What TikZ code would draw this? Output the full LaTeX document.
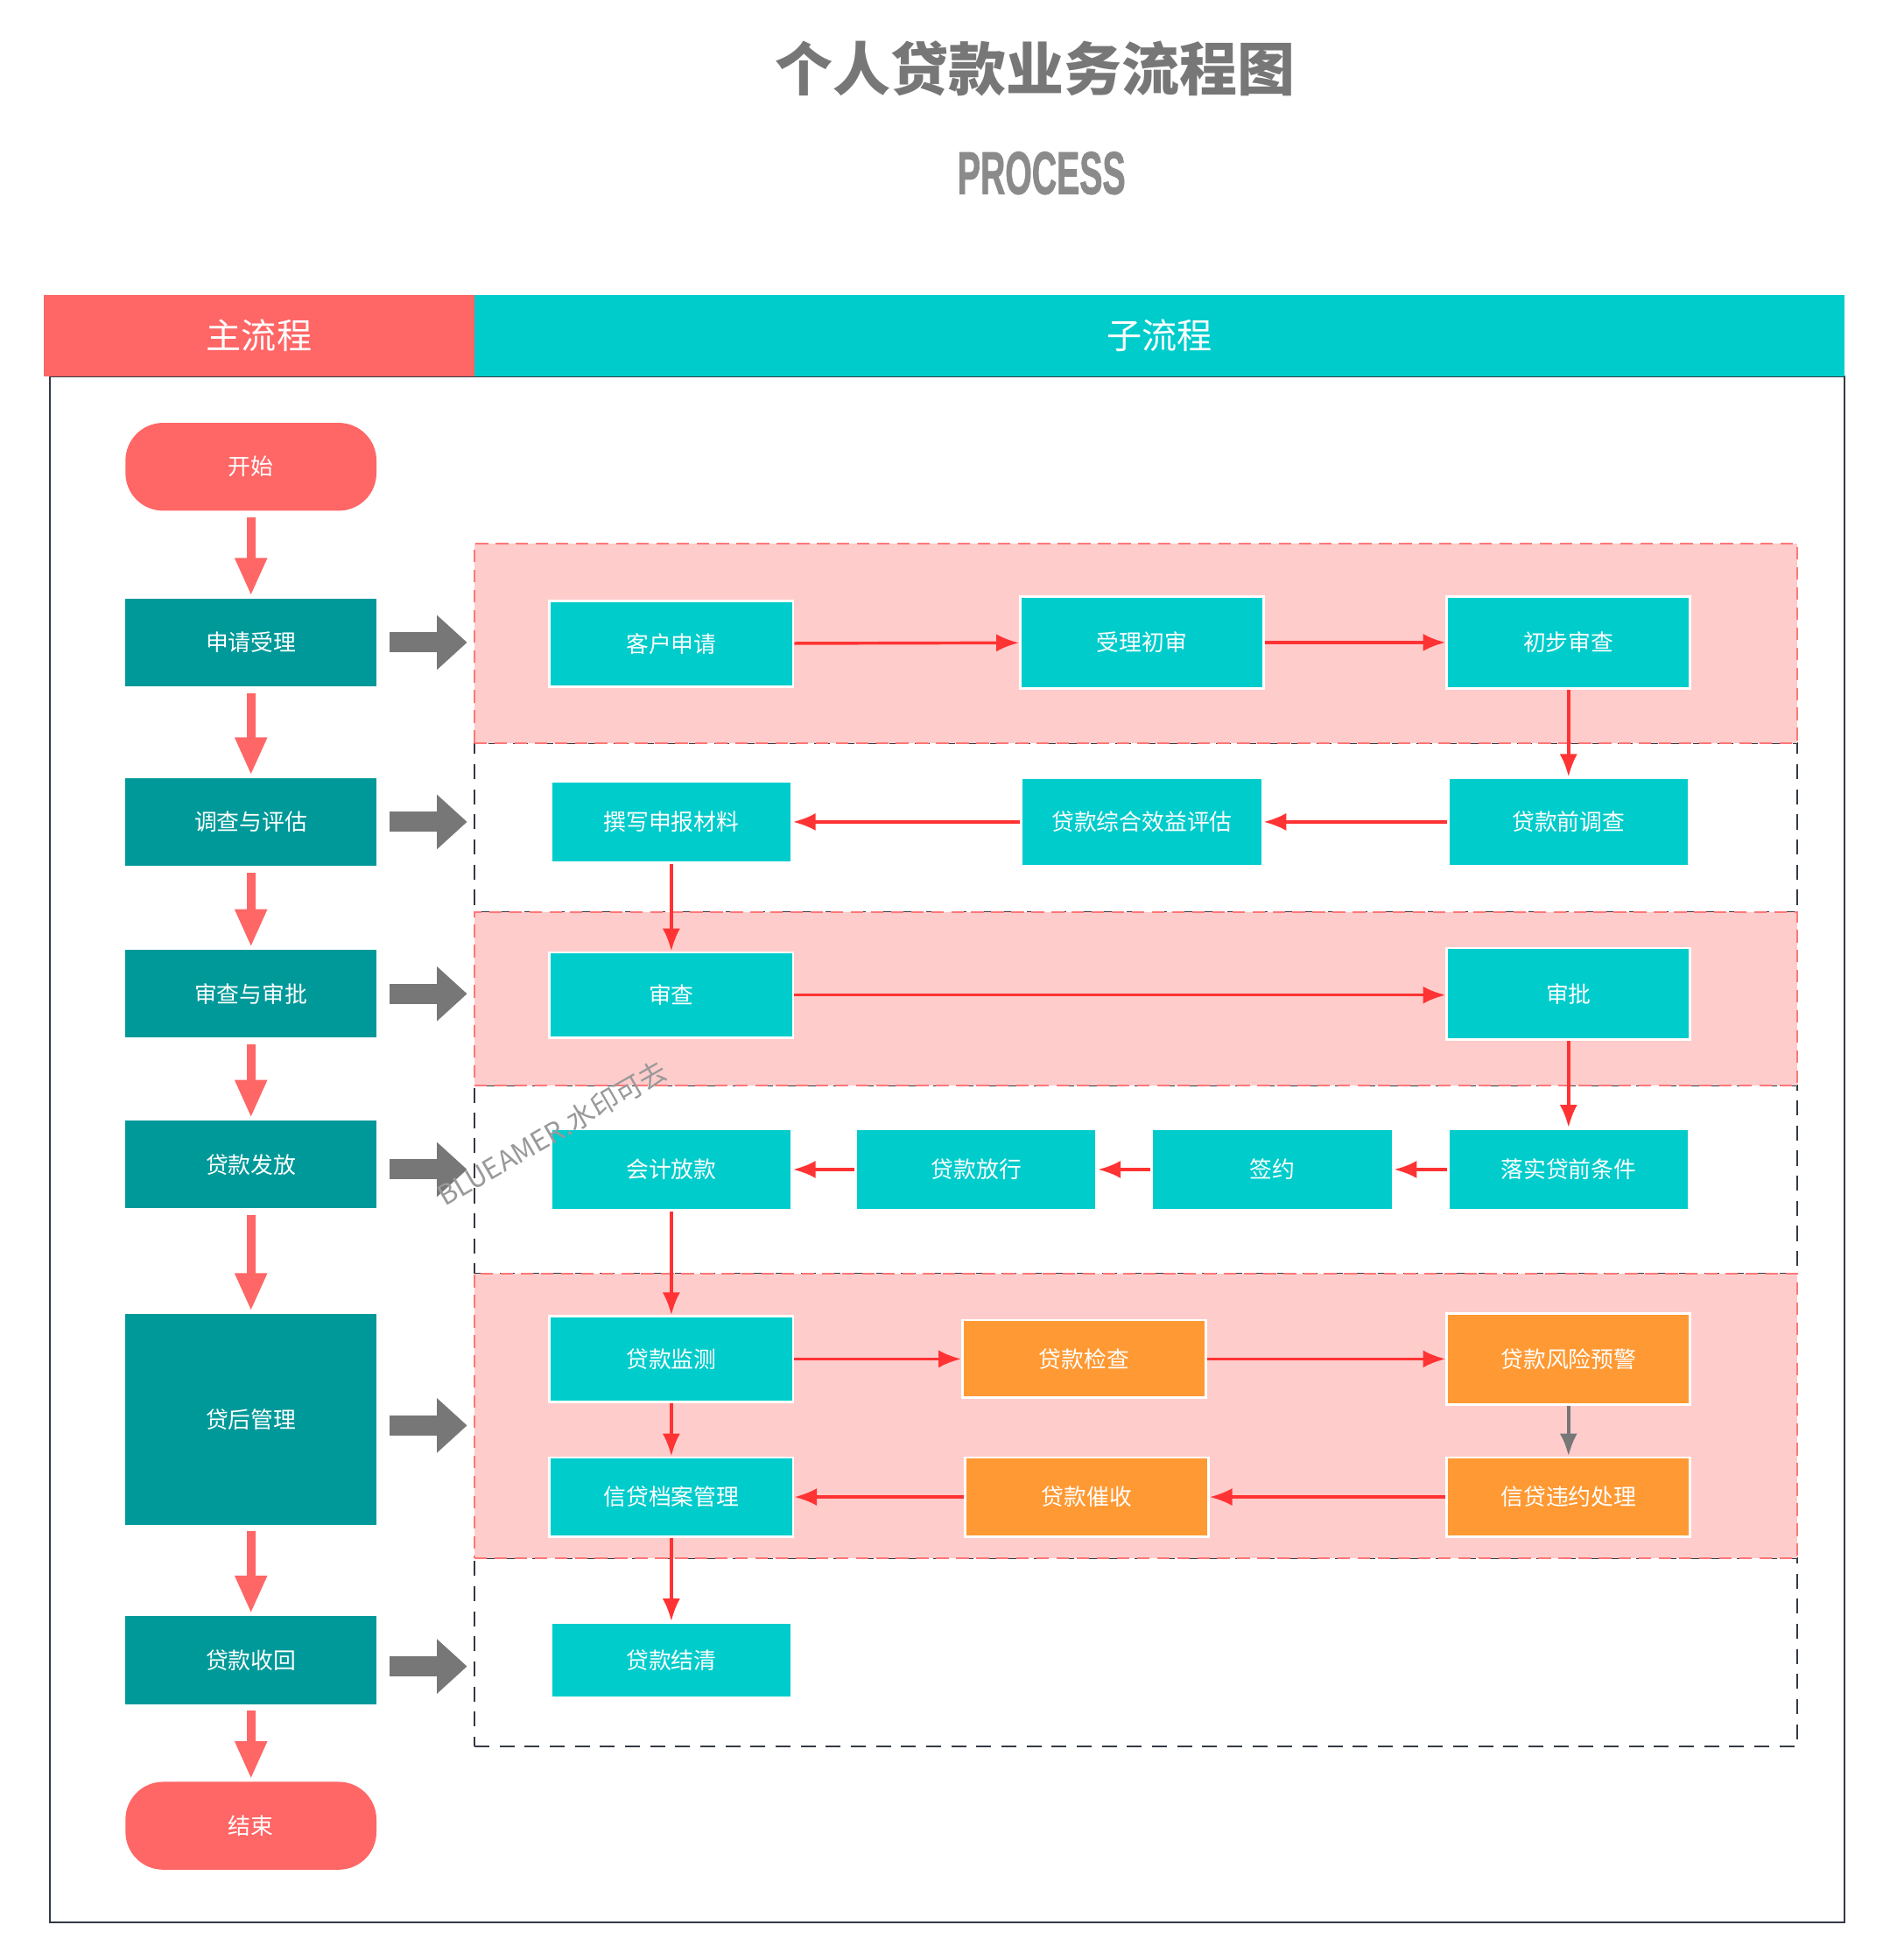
\documentclass[tikz,border=0pt]{standalone}
\usepackage{fontspec}
\setmainfont{Noto Sans CJK SC}
\newfontfamily\procfont[BoldFeatures={FakeBold=1.6}]{Liberation Sans}
\usetikzlibrary{positioning, arrows.meta}
\definecolor{mred}{HTML}{FF6666}
\definecolor{mteal}{HTML}{009999}
\definecolor{cteal}{HTML}{00CCCC}
\definecolor{cpink}{HTML}{FFCCCC}
\definecolor{corange}{HTML}{FF9933}
\definecolor{sred}{HTML}{FF3333}
\definecolor{agray}{HTML}{777777}
\definecolor{bgray}{HTML}{333A44}
\definecolor{bred}{HTML}{FF7777}

\begin{document}
\begin{tikzpicture}[x=0.5pt,y=-0.5pt,
mainbox/.style={fill=mteal, text=white, minimum width=100pt, minimum height=35pt, inner sep=0pt, font=\fontsize{9}{9}\selectfont},
endbox/.style={mainbox, fill=mred, rounded corners=15pt},
subbox/.style={fill=cteal, draw=white, line width=1pt, text=white, minimum width=97pt, minimum height=34pt, inner sep=0pt, font=\fontsize{9}{9}\selectfont},
orbox/.style={subbox, fill=corange},
pband/.style={fill=cpink, draw=bred, dash pattern=on 5pt off 3pt, line width=0.75pt, minimum width=527pt, inner sep=0pt},
wband/.style={draw=bgray, dash pattern=on 6pt off 4pt, line width=0.75pt, minimum width=527pt, inner sep=0pt},
mainarr/.style={draw=mred, line width=3.5pt, -{Triangle[width=12pt,length=15pt]}, shorten <=2.5pt, shorten >=1pt},
blkarr/.style={draw=agray, line width=8pt, -{Triangle[width=21pt,length=12pt]}, shorten <=5pt, shorten >=2.5pt},
subarr/.style={draw=sred, line width=1.2pt, -{Latex[length=9pt,width=7pt]}},
grayarr/.style={draw=agray, line width=1.5pt, -{Latex[length=9pt,width=7pt]}}]
\useasboundingbox (0,0) rectangle (1500,1562);
% title
\node[text=agray, font=\fontsize{23}{23}\selectfont\bfseries] (title) at (825,55) {个人贷款业务流程图};
\node[text=agray!85, font=\fontsize{24}{24}\selectfont\procfont\bfseries] (proc) at (830,138) {\scalebox{0.57}[1]{PROCESS}};
% frame and header
\draw[draw=bgray, line width=0.7pt] (40,300) rectangle (1470,1532);
\node[fill=mred, text=white, minimum width=171.5pt, minimum height=32.5pt, inner sep=0pt, font=\fontsize{14}{14}\selectfont] (hl) at (206.5,267.5) {主流程};
\node[fill=cteal, text=white, minimum width=546pt, minimum height=32.5pt, inner sep=0pt, font=\fontsize{14}{14}\selectfont] (hr) at (924,267.5) {子流程};
% bands
\node[wband, minimum height=67.5pt] (b2) at (905,659.5) {}; \node[wband, minimum height=75pt] (b4) at (905,940) {}; \node[wband, minimum height=75pt] (b6) at (905,1317) {};
\node[pband, minimum height=79.5pt] (b1) at (905,512.5) {}; \node[pband, minimum height=69pt] (b3) at (905,796) {}; \node[pband, minimum height=113.5pt] (b5) at (905,1128.5) {};
% main process
\node[endbox] (m0) at (200,372) {开始};
\foreach \i/\y/\t in {1/512/申请受理, 2/655/调查与评估, 3/792/审查与审批, 4/928/贷款发放, 6/1323/贷款收回}
	\node[mainbox] (m\i) at (200,\y) {\t};
\node[mainbox, minimum height=84pt] (m5) at (200,1131) {贷后管理};
\node[endbox] (m7) at (200,1455) {结束};
\foreach \i [evaluate=\i as \j using int(\i+1)] in {0,...,6}
	\draw[mainarr] (m\i) -- (m\j);
\draw[blkarr] (m1.east) -- (m1.east -| b1.west); \draw[blkarr] (m2.east) -- (m2.east -| b2.west); \draw[blkarr] (m3.east) -- (m3.east -| b3.west);
\draw[blkarr] ([yshift=-2pt]m4.east) -- ([yshift=-2pt]m4.east -| b4.west); \draw[blkarr] ([yshift=-2.5pt]m5.east) -- ([yshift=-2.5pt]m5.east -| b5.west); \draw[blkarr] ([yshift=-2.5pt]m6.east) -- ([yshift=-2.5pt]m6.east -| b6.west);
% sub process
\node[subbox] (s11) at (535,513) {客户申请}; \node[subbox, minimum height=36.5pt] (s12) at (910,512) {受理初审}; \node[subbox, minimum height=36.5pt] (s13) at (1250,512) {初步审查};
\node[subbox, minimum width=96pt, minimum height=32.5pt] (s21) at (535,655) {撰写申报材料}; \node[subbox, minimum width=96pt, minimum height=35pt] (s22) at (910,655) {贷款综合效益评估}; \node[subbox, minimum width=96pt, minimum height=35pt] (s23) at (1250,655) {贷款前调查};
\node[subbox] (s31) at (535,793) {审查}; \node[subbox, minimum height=36.5pt] (s32) at (1250,792) {审批};
\node[subbox, minimum width=96pt, minimum height=32.5pt] (s41) at (535,932) {会计放款}; \node[subbox, minimum width=96pt, minimum height=32.5pt] (s42) at (778,932) {贷款放行};
\node[subbox, minimum width=96pt, minimum height=32.5pt] (s43) at (1014,932) {签约}; \node[subbox, minimum width=96pt, minimum height=32.5pt] (s44) at (1250,932) {落实贷前条件};
\node[subbox] (s51) at (535,1083) {贷款监测}; \node[orbox, minimum height=31pt] (s52) at (864,1083) {贷款检查}; \node[orbox, minimum height=36.5pt] (s53) at (1250,1083) {贷款风险预警};
\node[subbox, minimum height=31.5pt] (s61) at (535,1193) {信贷档案管理}; \node[orbox, minimum height=31.5pt] (s62) at (866,1193) {贷款催收}; \node[orbox, minimum height=31.5pt] (s63) at (1250,1193) {信贷违约处理};
\node[subbox, minimum width=96pt, minimum height=30pt] (s71) at (535,1323) {贷款结清};
\draw[subarr] (s11) -- (s12); \draw[subarr] (s12) -- (s13); \draw[subarr] (s13) -- (s23); \draw[subarr] (s23) -- (s22); \draw[subarr] (s22) -- (s21); \draw[subarr] (s21) -- (s31);
\draw[subarr] (s31.east) -- (s31.east -| s32.west); \draw[subarr] (s32) -- (s44); \draw[subarr] (s44) -- (s43); \draw[subarr] (s43) -- (s42); \draw[subarr] (s42) -- (s41); \draw[subarr] (s41) -- (s51);
\draw[subarr] (s51) -- (s52); \draw[subarr] (s52) -- (s53); \draw[grayarr] (s53) -- (s63); \draw[subarr] (s63) -- (s62); \draw[subarr] (s62) -- (s61); \draw[subarr] (s51) -- (s61); \draw[subarr] (s61) -- (s71);
% watermark
\node[rotate=30, text=agray!75, font=\fontsize{11}{11}\selectfont] (wm) at (440,903) {BLUEAMER.水印可去};
\end{tikzpicture}
\end{document}
